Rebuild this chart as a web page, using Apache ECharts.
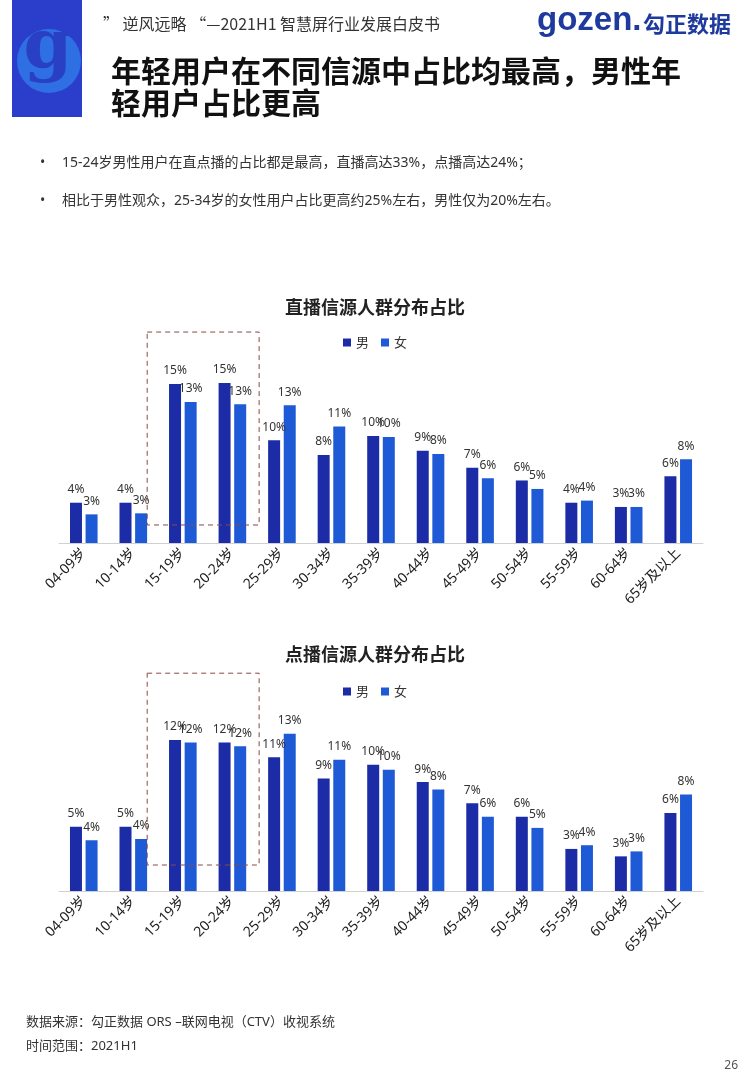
<!DOCTYPE html>
<html>
<head>
<meta charset="utf-8">
<script src="https://cdn.jsdelivr.net/npm/echarts@6/dist/echarts.min.js"></script>
<style>
html,body{margin:0;padding:0;background:#fff;}
#main{width:750px;height:1083px;}
</style>
</head>
<body>
<div id="main"></div>
<script>
// ---- data ----
const categories = ['04-09岁','10-14岁','15-19岁','20-24岁','25-29岁','30-34岁','35-39岁','40-44岁','45-49岁','50-54岁','55-59岁','60-64岁','65岁及以上'];
const seriesNames = ['男','女'];
const liveMale   = [3.8, 3.8, 15.0, 15.1, 9.7, 8.3, 10.1, 8.7, 7.1, 5.9, 3.8, 3.4, 6.3];
const liveFemale = [2.7, 2.8, 13.3, 13.1, 13.0, 11.0, 10.0, 8.4, 6.1, 5.1, 4.0, 3.4, 7.9];
const vodMale    = [5.2, 5.2, 12.2, 12.0, 10.8, 9.1, 10.2, 8.8, 7.1, 6.0, 3.4, 2.8, 6.3];
const vodFemale  = [4.1, 4.2, 12.0, 11.7, 12.7, 10.6, 9.8, 8.2, 6.0, 5.1, 3.7, 3.2, 7.8];
const chartTitles = ['直播信源人群分布占比','点播信源人群分布占比'];
const highlightCats = ['15-19岁','20-24岁'];

const pageSubtitle = '” 逆风远略 “—2021H1 智慧屏行业发展白皮书';
const pageTitle1 = '年轻用户在不同信源中占比均最高，男性年';
const pageTitle2 = '轻用户占比更高';
const bullets = ['15-24岁男性用户在直点播的占比都是最高，直播高达33%，点播高达24%；',
                 '相比于男性观众，25-34岁的女性用户占比更高约25%左右，男性仅为20%左右。'];
const footer1 = '数据来源：勾正数据 ORS –联网电视（CTV）收视系统';
const footer2 = '时间范围：2021H1';
const pageNo = '26';

// ---- styles ----
const MALE = '#1b2ca6';
const FEMALE = '#1f5ad6';
const FONT = '"Noto Sans", "Noto Sans CJK SC", sans-serif';
const CJK = '"Noto Sans CJK SC", sans-serif';

const chart = echarts.init(document.getElementById('main'), null, {renderer:'canvas'});

function barSeries(name, data, gi, color){
  return {
    type:'bar', name:name, data:data, xAxisIndex:gi, yAxisIndex:gi,
    barWidth:12, barGap:'30%',
    itemStyle:{color:color},
    label:{show:true, position:'top', distance:7, fontSize:12, color:'#333', fontFamily:FONT,
      formatter:p => Math.round(p.value) + '%'},
    emphasis:{disabled:true}, animation:false
  };
}

const grids = [
  {left:59, right:47, top:331, bottom:540},
  {left:59, right:47, top:693, bottom:192}
];
const yMax = [20, 16];

const option = {
  animation:false,
  textStyle:{fontFamily:FONT},
  title: chartTitles.map((t,i)=>({
    text:t, left:'center', top: i===0 ? 293 : 640,
    textStyle:{fontSize:18, fontWeight:'bold', color:'#222', fontFamily:CJK}
  })),
  legend: [0,1].map(i=>({
    data:seriesNames, top: i===0 ? 331 : 680, left:'center',
    icon:'rect', itemWidth:8, itemHeight:8, itemGap:12,
    textStyle:{fontSize:13, color:'#333', fontFamily:CJK},
    selectedMode:false
  })),
  grid: grids,
  xAxis: [0,1].map(i=>({
    type:'category', data:categories, gridIndex:i,
    axisLine:{show:true, lineStyle:{color:'#d0d0d0', width:1}},
    axisTick:{show:false},
    axisLabel:{rotate:45, fontSize:14, color:'#222', margin:8, interval:0, fontFamily:FONT}
  })),
  yAxis: [0,1].map(i=>({
    type:'value', gridIndex:i, min:0, max:yMax[i], show:false,
    splitLine:{show:false}
  })),
  series:[
    barSeries(seriesNames[0], liveMale, 0, MALE),
    barSeries(seriesNames[1], liveFemale, 0, FEMALE),
    barSeries(seriesNames[0], vodMale, 1, MALE),
    barSeries(seriesNames[1], vodFemale, 1, FEMALE)
  ]
};
chart.setOption(option);

// ---- dashed highlight boxes, positioned through the axes ----
const boxYRange = [[1.7, 19.9],[2.1, 17.6]];
const graphics = [];
[0,1].forEach(gi=>{
  const c1 = chart.convertToPixel({xAxisIndex:gi}, highlightCats[0]);
  const c2 = chart.convertToPixel({xAxisIndex:gi}, highlightCats[1]);
  const band = c2 - c1;
  const yb = chart.convertToPixel({yAxisIndex:gi}, boxYRange[gi][0]);
  const yt = chart.convertToPixel({yAxisIndex:gi}, boxYRange[gi][1]);
  const x1 = c1 - band*0.72, x2 = c2 + band*0.54;
  graphics.push({type:'rect', silent:true, z:5,
    shape:{x:x1, y:yt, width:x2-x1, height:yb-yt},
    style:{fill:'none', stroke:'#8a4848', lineWidth:1, lineDash:[5,4]}});
});

// ---- page header / text ----
graphics.push(
  {type:'rect', shape:{x:12, y:0, width:70, height:117}, style:{fill:'#2a3ecb'}},
  {type:'circle', shape:{cx:49, cy:61, r:32}, style:{fill:'#2f6fe4'}},
  {type:'text', style:{x:48, y:50, text:'g', fill:'#2a40c4', font:'bold 70px "DejaVu Serif", serif', align:'center', verticalAlign:'middle'}},
  {type:'text', style:{x:103, y:24, text:pageSubtitle, fill:'#333', font:'16px '+CJK, verticalAlign:'middle'}},
  {type:'text', style:{x:537, y:21, text:'gozen.', fill:'#1e3a9c', font:'bold 33px "Liberation Sans", Arial, sans-serif', verticalAlign:'middle'}},
  {type:'text', style:{x:643, y:24, text:'勾正数据', fill:'#1e3a9c', font:'bold 22px '+CJK, verticalAlign:'middle'}},
  {type:'text', style:{x:111, y:71, text:pageTitle1, fill:'#111', font:'bold 30px '+CJK, verticalAlign:'middle'}},
  {type:'text', style:{x:111, y:103, text:pageTitle2, fill:'#111', font:'bold 30px '+CJK, verticalAlign:'middle'}},
  {type:'text', style:{x:40, y:163, text:'•', fill:'#333', font:'14px '+FONT, verticalAlign:'middle'}},
  {type:'text', style:{x:62, y:163, text:bullets[0], fill:'#333', font:'14px '+FONT, verticalAlign:'middle'}},
  {type:'text', style:{x:40, y:201, text:'•', fill:'#333', font:'14px '+FONT, verticalAlign:'middle'}},
  {type:'text', style:{x:62, y:201, text:bullets[1], fill:'#333', font:'14px '+FONT, verticalAlign:'middle'}},
  {type:'text', style:{x:26, y:1022, text:footer1, fill:'#333', font:'13px '+FONT, verticalAlign:'middle'}},
  {type:'text', style:{x:26, y:1046, text:footer2, fill:'#333', font:'13px '+FONT, verticalAlign:'middle'}},
  {type:'text', style:{x:738, y:1066, text:pageNo, fill:'#555', font:'12px '+FONT, align:'right', verticalAlign:'middle'}}
);
chart.setOption({graphic:graphics});
</script>
</body>
</html>
